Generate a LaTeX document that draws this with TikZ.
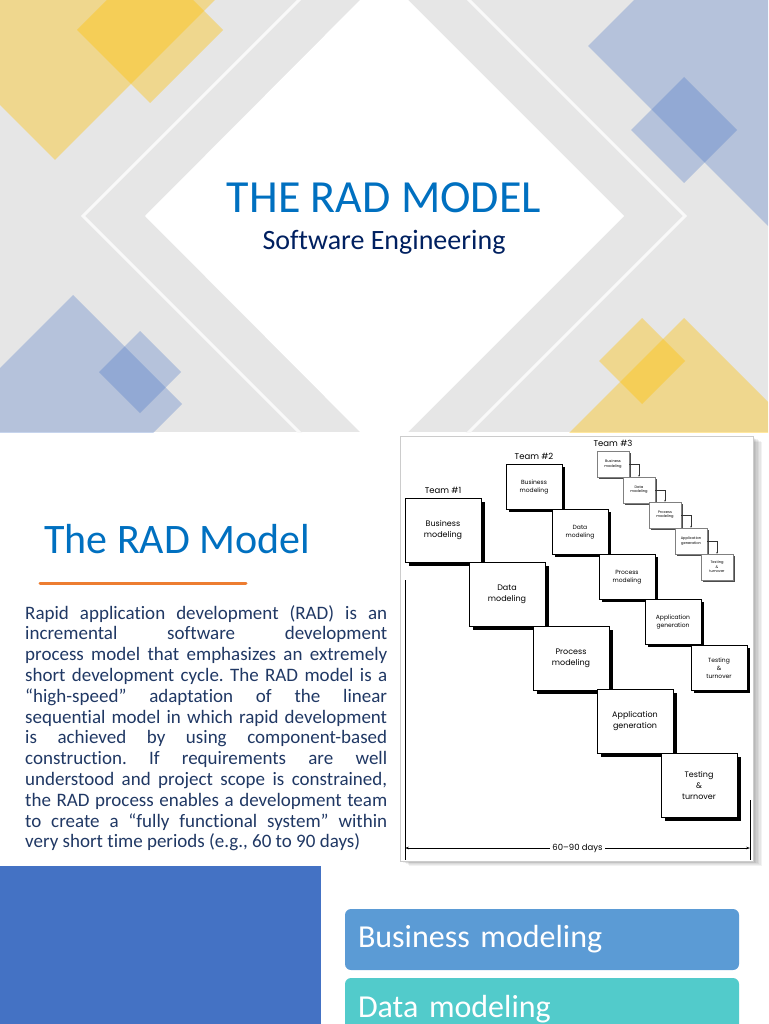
\documentclass[tikz,border=0pt]{standalone}
\usepackage{fontspec}
\setmainfont{Carlito}[Ligatures={TeX,NoCommon}]
\newfontfamily\figfont{Poppins}
\usetikzlibrary{positioning,arrows.meta,shadows}
\frenchspacing

\definecolor{slidegrey}{HTML}{E6E6E6}
\definecolor{gold}{HTML}{FFC000}
\definecolor{accent}{HTML}{4472C4}
\definecolor{titleblue}{HTML}{0070C0}
\definecolor{navy}{HTML}{002060}
\definecolor{bodynavy}{HTML}{203864}
\definecolor{underline}{HTML}{ED7D31}
\definecolor{bizblue}{HTML}{5B9BD5}
\definecolor{datateal}{HTML}{52CBCB}

\newcommand{\jline}[1]{\hbox to 362pt{#1}}

\begin{document}
\begin{tikzpicture}[x=1pt,y=-1pt,
  bigstep/.style={draw, fill=white, line width=0.6pt, minimum width=76pt, minimum height=64pt,
    inner sep=1pt, align=center, font=\figfont\fontsize{8}{11}\selectfont,
    general shadow={fill=black, shadow xshift=3.5pt, shadow yshift=-3.5pt}},
  midstep/.style={draw, fill=white, line width=0.5pt, minimum width=56pt, minimum height=45pt,
    inner sep=1pt, align=center, font=\figfont\fontsize{6}{8.2}\selectfont,
    general shadow={fill=black, shadow xshift=2.5pt, shadow yshift=-2.5pt}},
  tinystep/.style={draw=gray, fill=white, line width=0.4pt, minimum width=32pt, minimum height=26pt,
    inner sep=0.5pt, align=center, font=\figfont\fontsize{3.6}{4.4}\selectfont,
    general shadow={fill=black!70, shadow xshift=1.5pt, shadow yshift=-1.5pt}},
  team/.style={font=\figfont\fontsize{8.5}{10}\selectfont, inner sep=0pt},
  flow/.style={-{Stealth[length=4pt,width=2.6pt]}, line width=0.5pt},
  tinyflow/.style={-{Stealth[length=2pt,width=1.5pt]}, line width=0.3pt, draw=black!80},
  pill/.style={rounded corners=6pt, minimum width=394pt, text width=368pt, inner xsep=13pt,
    align=left, text=white, font=\fontsize{32}{36}\selectfont},
]
\useasboundingbox (0,0) rectangle (768,1024);
\clip (0,0) rectangle (768,1024);
\fill[white] (0,0) rectangle (768,1024);

% title slide
\begin{scope}
  \clip (0,0) rectangle (768,432);
  \fill[slidegrey] (0,0) rectangle (768,432);
  \fill[white] (145,216) -- (384,-24) -- (624,216) -- (384,456) -- cycle;
  \draw[white!95!gray, line width=3pt] (83,216) -- (384,-85) -- (685,216) -- (384,517) -- cycle;
  \foreach \cx/\cy/\h/\c/\o in {55/0/160/gold/0.38, 150/30/73/gold/0.38,
      838/46/250/accent/0.3, 684/130/53/accent/0.3,
      73/404/109/accent/0.3, 140/372/41/accent/0.3,
      684/448/130/gold/0.38, 642/361/43/gold/0.38}
    \fill[\c, opacity=\o] (\cx-\h,\cy) -- (\cx,\cy-\h) -- (\cx+\h,\cy) -- (\cx,\cy+\h) -- cycle;
\end{scope}
\draw (384,213) node[anchor=base, text=titleblue, font=\fontsize{46}{50}\selectfont] (title) {THE RAD MODEL};
\draw (384,249) node[anchor=base, text=navy, font=\fontsize{28}{32}\selectfont] (subtitle) {Software Engineering};

% text slide
\draw (44,553) node[anchor=base west, inner sep=0pt, text=titleblue, font=\fontsize{42}{48}\selectfont] (heading) {The RAD Model};
\draw[underline, line width=3pt, line cap=round] (40,583) -- (246,583);
\draw (25,619) node[anchor=base west, inner sep=0pt, text=bodynavy, font=\fontsize{19}{20.8}\selectfont] (body)
  {\vtop{\baselineskip=20.8pt
   \jline{Rapid application development (RAD) is an}
   \jline{incremental software development}
   \jline{process model that emphasizes an extremely}
   \jline{short development cycle. The RAD model is a}
   \jline{“high-speed” adaptation of the linear}
   \jline{sequential model in which rapid development}
   \jline{is achieved by using component-based}
   \jline{construction. If requirements are well}
   \jline{understood and project scope is constrained,}
   \jline{the RAD process enables a development team}
   \jline{to create a “fully functional system” within}
   \hbox{very short time periods (e.g., 60 to 90 days)}}};

% figure
\foreach \k in {1,...,6}
  \fill[black, opacity=0.05] (400+1.5*\k,437+0.8*\k) rectangle (753+1.5*\k,861+0.8*\k);
\draw[black!20, fill=white] (400,436) rectangle (753,861);

\draw (613,464) node[tinystep] (c1) {Business\\modeling};
\draw (639,490) node[tinystep] (c2) {Data\\modeling};
\draw (665,515) node[tinystep] (c3) {Process\\modeling};
\draw (691,541) node[tinystep] (c4) {Application\\generation};
\draw (717,567) node[tinystep] (c5) {Testing\\\&\\turnover};
\node[team, above=4pt of c1] (teamC) {Team \#3};
\path[tinyflow] (c1.east) -| (c2.north);
\path[tinyflow] (c2.east) -| (c3.north);
\path[tinyflow] (c3.east) -| (c4.north);
\path[tinyflow] (c4.east) -| (c5.north);

\draw (534,487) node[midstep] (b1) {Business\\modeling};
\draw (580,532) node[midstep] (b2) {Data\\modeling};
\draw (627,577) node[midstep] (b3) {Process\\modeling};
\draw (673,622) node[midstep] (b4) {Application\\generation};
\draw (719,668) node[midstep] (b5) {Testing\\\&\\turnover};
\node[team, above=4pt of b1] (teamB) {Team \#2};
\path[flow] (b1.east) -| (b2.north);
\path[flow] (b2.east) -| (b3.north);
\path[flow] (b3.east) -| (b4.north);
\path[flow] (b4.east) -| (b5.north);

\draw (443,530) node[bigstep] (a1) {Business\\modeling};
\draw (507,594) node[bigstep] (a2) {Data\\modeling};
\draw (571,658) node[bigstep] (a3) {Process\\modeling};
\draw (635,721) node[bigstep] (a4) {Application\\generation};
\draw (699,785) node[bigstep] (a5) {Testing\\\&\\turnover};
\node[team, above=4pt of a1] (teamA) {Team \#1};
\path[flow] (a1.east) -| (a2.north);
\path[flow] (a2.east) -| (a3.north);
\path[flow] (a3.east) -| (a4.north);
\path[flow] (a4.east) -| (a5.north);

\coordinate (spanL) at (405,848);
\coordinate (spanR) at (750,848);
\coordinate (tickL) at (405,580);
\coordinate (tickR) at (750,800);
\draw[line width=0.6pt] (tickL) -- (405,860);
\draw[line width=0.6pt] (tickR) -- (750,860);
\draw[{Stealth[length=4pt,width=2.6pt]}-{Stealth[length=4pt,width=2.6pt]}, line width=0.5pt] (spanL) -- (spanR)
  node[midway, fill=white, inner xsep=2pt, inner ysep=1pt, font=\figfont\fontsize{8.5}{10}\selectfont] (days) {60–90 days};

% phases slide
\fill[accent] (0,866) rectangle (321,1024);
\draw (542,939.5) node[pill, fill=bizblue, minimum height=61pt] (bizmod) {Business modeling};
\draw (542,1009) node[pill, fill=datateal, minimum height=62pt] (datamod) {Data modeling};

\end{tikzpicture}
\end{document}
